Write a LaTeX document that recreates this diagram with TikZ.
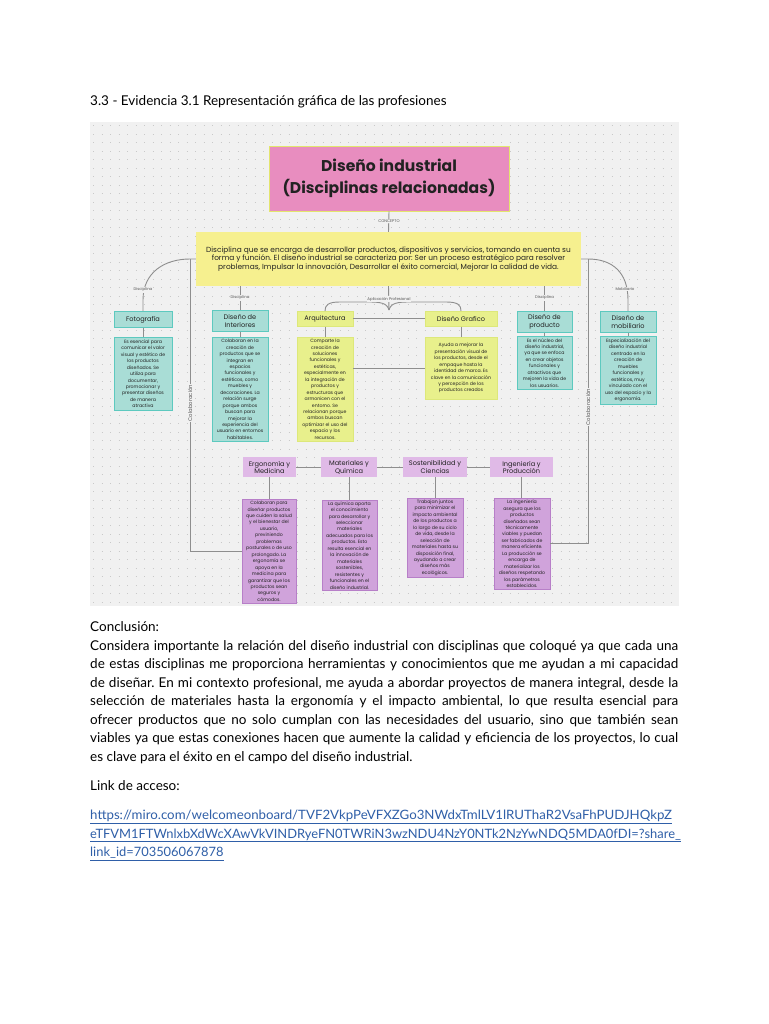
\documentclass[tikz,border=0pt]{standalone}
\usepackage{fontspec}
\setmainfont{Lato}
\newfontfamily\poppins{Poppins}
\frenchspacing
\definecolor{bgcol}{HTML}{F1F1F1}
\definecolor{dotcol}{HTML}{C9C9C9}
\definecolor{linecol}{HTML}{8E8E8E}
\definecolor{lblcol}{HTML}{555555}
\definecolor{txtcol}{HTML}{222222}
\definecolor{pinkfill}{HTML}{E88DBF}
\definecolor{pinkdraw}{HTML}{E3E56E}
\definecolor{yelfill}{HTML}{F6F08F}
\definecolor{tealfill}{HTML}{A9DDD6}
\definecolor{tealdraw}{HTML}{5DC9BF}
\definecolor{limefill}{HTML}{E8F08C}
\definecolor{limedraw}{HTML}{DDE87A}
\definecolor{purphfill}{HTML}{E0BAE7}
\definecolor{purpdfill}{HTML}{D0A3DB}
\definecolor{purpddraw}{HTML}{B77FC8}
\definecolor{linkcol}{HTML}{2F5FA8}
\tikzset{
  conn/.style={draw=linecol, line width=0.9pt},
  lbl/.style={font=\poppins\fontsize{3.9}{4.3}\selectfont, text=lblcol, fill=bgcol, inner sep=0.7pt},
  colab/.style={font=\poppins\fontsize{5.3}{6}\selectfont, text=lblcol, fill=bgcol, inner sep=0.8pt, rotate=90},
  boxsz/.style 2 args={minimum width=#1, minimum height=#2, inner sep=0pt, anchor=north, align=center},
  headtxt/.style={font=\poppins\fontsize{6.6}{7.5}\selectfont, text=txtcol},
  desctxt/.style={font=\poppins\fontsize{4.65}{6.45}\selectfont, text=txtcol},
  tealbox/.style={fill=tealfill, draw=tealdraw, line width=0.7pt},
  limebox/.style={fill=limefill, draw=limedraw, line width=0.5pt},
  purphead/.style={fill=purphfill},
  purpdesc/.style={fill=purpdfill, draw=purpddraw, line width=0.6pt},
  pagetext/.style={font=\fontsize{13.5}{15}\selectfont, text=black, inner sep=0pt, anchor=base west},
  linktext/.style={font=\fontsize{12.9}{15}\selectfont, text=linkcol, inner sep=0pt, anchor=base west},
}
\begin{document}
\begin{tikzpicture}[x=1pt,y=-1pt]
\useasboundingbox[fill=white] (0,0) rectangle (768,1024);

% page heading
\node[pagetext] (ptitle) at (90,105.5) {3.3 - Evidencia 3.1 Representación gráfica de las profesiones};

% canvas with dot grid
\fill[bgcol] (90,122) rectangle (679,606);
\foreach \r in {0,...,56}
  \draw[dotcol, line width=1pt, dash pattern=on 1pt off 7.5pt] (93,126+\r*8.5) -- (679,126+\r*8.5);

% title and concept
\node[fill=pinkfill, draw=pinkdraw, line width=0.8pt, minimum width=240pt, minimum height=65pt,
      inner sep=0pt, align=center, font=\poppins\bfseries\fontsize{15.6}{21.5}\selectfont, text=txtcol]
      (title) at (389,178.5) {Diseño industrial\\(Disciplinas relacionadas)};
\node[fill=yelfill, minimum width=385pt, minimum height=54pt, inner sep=0pt, align=center,
      font=\poppins\fontsize{7.4}{8.6}\selectfont, text=txtcol] (concept) at (388.5,259)
 {Disciplina que se encarga de desarrollar productos, dispositivos y servicios, tomando en cuenta su\\
  forma y función. El diseño industrial se caracteriza por: Ser un proceso estratégico para resolver\\
  problemas, Impulsar la innovación, Desarrollar el éxito comercial, Mejorar la calidad de vida.};

% top row headers
\node[tealbox, boxsz={58pt}{16pt}, headtxt] (fotoh) at (143,311) {Fotografía};
\node[tealbox, boxsz={56pt}{21pt}, headtxt] (inth) at (240,310) {Diseño de\\Interiores};
\node[limebox, boxsz={56pt}{15pt}, headtxt] (arqh) at (325,311) {Arquitectura};
\node[limebox, boxsz={72pt}{15pt}, headtxt] (grafh) at (461,311) {Diseño Grafico};
\node[tealbox, boxsz={55pt}{21pt}, headtxt] (prodh) at (544.5,311) {Diseño de\\producto};
\node[tealbox, boxsz={56pt}{21pt}, headtxt] (mobh) at (628,311) {Diseño de\\mobiliario};

% top row descriptions
\node[tealbox, boxsz={58pt}{73pt}, desctxt] (fotod) at (143,337)
 {Es esencial para\\comunicar el valor\\visual y estético de\\los productos\\diseñados. Se\\utiliza para\\documentar,\\promocionar y\\presentar diseños\\de manera\\atractiva};
\node[tealbox, boxsz={56pt}{104pt}, desctxt] (intd) at (240,337)
 {Colaboran en la\\creación de\\productos que se\\integran en\\espacios\\funcionales y\\estéticos, como\\muebles y\\decoraciones. La\\relación surge\\porque ambos\\buscan para\\mejorar la\\experiencia del\\usuario en entornos\\habitables.};
\node[limebox, boxsz={56pt}{104pt}, desctxt] (arqd) at (325,337)
 {Comparte la\\creación de\\soluciones\\funcionales y\\estéticas,\\especialmente en\\la integración de\\productos y\\estructuras que\\armonicen con el\\entorno. Se\\relacionan porque\\ambos buscan\\optimizar el uso del\\espacio y los\\recursos.};
\node[limebox, boxsz={72pt}{62pt}, desctxt] (grafd) at (461,337)
 {Ayuda a mejorar la\\presentación visual de\\los productos, desde el\\empaque hasta la\\identidad de marca. Es\\clave en la comunicación\\y percepción de los\\productos creados};
\node[tealbox, boxsz={55pt}{53pt}, desctxt] (prodd) at (544.5,336)
 {Es el núcleo del\\diseño industrial,\\ya que se enfoca\\en crear objetos\\funcionales y\\atractivos que\\mejoren la vida de\\los usuarios.};
\node[tealbox, boxsz={56pt}{68pt}, desctxt] (mobd) at (628,336)
 {Especialización del\\diseño industrial\\centrado en la\\creación de\\muebles\\funcionales y\\estéticos, muy\\vinculado con el\\uso del espacio y la\\ergonomía.};

% bottom row headers
\node[purphead, boxsz={53pt}{20pt}, headtxt] (ergoh) at (269.5,457) {Ergonomía y\\Medicina};
\node[purphead, boxsz={56pt}{20pt}, headtxt] (math) at (349,457) {Materiales y\\Química};
\node[purphead, boxsz={64pt}{20pt}, headtxt] (sosth) at (435,457) {Sostenibilidad y\\Ciencias};
\node[purphead, boxsz={63pt}{20pt}, headtxt] (ingh) at (521.5,457) {Ingeniería y\\Producción};

% bottom row descriptions
\node[purpdesc, boxsz={54pt}{104pt}, desctxt] (ergod) at (269,499)
 {Colaboran para\\diseñar productos\\que cuiden la salud\\y el bienestar del\\usuario,\\previniendo\\problemas\\posturales o de uso\\prolongado. La\\ergonomía se\\apoya en la\\medicina para\\garantizar que los\\productos sean\\seguros y\\cómodos.};
\node[purpdesc, boxsz={55pt}{90pt}, desctxt] (matd) at (349.5,500)
 {La química aporta\\el conocimiento\\para desarrollar y\\seleccionar\\materiales\\adecuados para los\\productos. Esto\\resulta esencial en\\la innovación de\\materiales\\sostenibles,\\resistentes y\\funcionales en el\\diseño industrial.};
\node[purpdesc, boxsz={56pt}{79pt}, desctxt] (sostd) at (435,498)
 {Trabajan juntos\\para minimizar el\\impacto ambiental\\de los productos a\\lo largo de su ciclo\\de vida, desde la\\selección de\\materiales hasta su\\disposición final,\\ayudando a crear\\diseños más\\ecológicos.};
\node[purpdesc, boxsz={56pt}{91pt}, desctxt] (ingd) at (522,498)
 {La ingeniería\\asegura que los\\productos\\diseñados sean\\técnicamente\\viables y puedan\\ser fabricados de\\manera eficiente.\\La producción se\\encarga de\\materializar los\\diseños respetando\\los parámetros\\establecidos.};

% junction coordinates
\coordinate (jl) at (190,259);
\coordinate (jr) at (588,259);
\coordinate (bc) at (389,310);

% connectors
\draw[conn] (title.south) -- (concept.north);
\draw[conn] (concept.west) -- (jl) .. controls (165,259) and (143,272) .. (143,300) -- (fotoh.north);
\draw[conn] (concept.east) -- (jr) .. controls (612,259) and (628,272) .. (628,300) -- (mobh.north);
\draw[conn] (inth.north |- concept.south) -- (inth.north);
\draw[conn] (prodh.north |- concept.south) -- (prodh.north);
\draw[conn] (concept.south) -- (bc);
\draw[conn] (bc) .. controls (387,303) and (381,302) .. (368,302) -- (340,302) .. controls (328,302) and (325,305) .. (arqh.north);
\draw[conn] (bc) .. controls (391,303) and (397,302) .. (410,302) -- (446,302) .. controls (458,302) and (461,305) .. (grafh.north);
\draw[conn] (jl) |- (ergod.west);
\draw[conn] (jr) |- (ingd.east);
\draw[conn] (fotoh.south) -- (fotod.north);
\draw[conn] (inth.south) -- (intd.north);
\draw[conn] (arqh.south) -- (arqd.north);
\draw[conn] (grafh.south) -- (grafd.north);
\draw[conn] (prodh.south) -- (prodd.north);
\draw[conn] (mobh.south) -- (mobd.north);
\draw[conn] (arqh.east) -- (grafh.west);
\draw[conn] (arqd.east |- grafd.west) -- (grafd.west);
\draw[conn] (ergoh.east) -- (math.west);
\draw[conn] (math.east) -- (sosth.west);
\draw[conn] (sosth.east) -- (ingh.west);
\draw[conn] (ergoh.south) -- (ergoh.south |- ergod.north);
\draw[conn] (math.south) -- (math.south |- matd.north);
\draw[conn] (sosth.south) -- (sosth.south |- sostd.north);
\draw[conn] (ingh.south) -- (ingh.south |- ingd.north);

% connector labels
\node[lbl] (lconcepto) at (389,221) {CONCEPTO};
\node[lbl] (ldisc1) at (143,290) {Disciplina};
\node[lbl] (ldisc2) at (240,298) {Disciplina};
\node[lbl] (laplic) at (389,299) {Aplicación Profesional};
\node[lbl] (ldisc3) at (544.5,298) {Disciplina};
\node[lbl] (lmob) at (625,289) {Mobiliario};
\node[colab] (lcolL) at (190,403) {Colaboración};
\node[colab] (lcolR) at (588,407) {Colaboración};

% conclusion
\node[pagetext] (conc) at (90,631.5) {Conclusión:};
\node[pagetext] (p1) at (90,650) {\makebox[588pt][s]{Considera importante la relación del diseño industrial con disciplinas que coloqué ya que cada una}};
\node[pagetext] (p2) at (90,668.5) {\makebox[588pt][s]{de estas disciplinas me proporciona herramientas y conocimientos que me ayudan a mi capacidad}};
\node[pagetext] (p3) at (90,687) {\makebox[588pt][s]{de diseñar. En mi contexto profesional, me ayuda a abordar proyectos de manera integral, desde la}};
\node[pagetext] (p4) at (90,705.5) {\makebox[588pt][s]{selección de materiales hasta la ergonomía y el impacto ambiental, lo que resulta esencial para}};
\node[pagetext] (p5) at (90,724) {\makebox[588pt][s]{ofrecer productos que no solo cumplan con las necesidades del usuario, sino que también sean}};
\node[pagetext] (p6) at (90,742.5) {\makebox[588pt][s]{viables ya que estas conexiones hacen que aumente la calidad y eficiencia de los proyectos, lo cual}};
\node[pagetext] (p7) at (90,761) {es clave para el éxito en el campo del diseño industrial.};

\node[pagetext] (linkhd) at (90,790.5) {Link de acceso:};
\node[linktext] (l1) at (90,819.5) {\scalebox{1.028}[1]{\underline{https://miro.com/welcomeonboard/TVF2VkpPeVFXZGo3NWdxTmlLV1lRUThaR2VsaFhPUDJHQkpZ}}};
\node[linktext] (l2) at (90,838) {\underline{eTFVM1FTWnlxbXdWcXAwVkVINDRyeFN0TWRiN3wzNDU4NzY0NTk2NzYwNDQ5MDA0fDI=?share\_}};
\node[linktext] (l3) at (90,856.5) {\underline{link\_id=703506067878}};
\end{tikzpicture}
\end{document}
